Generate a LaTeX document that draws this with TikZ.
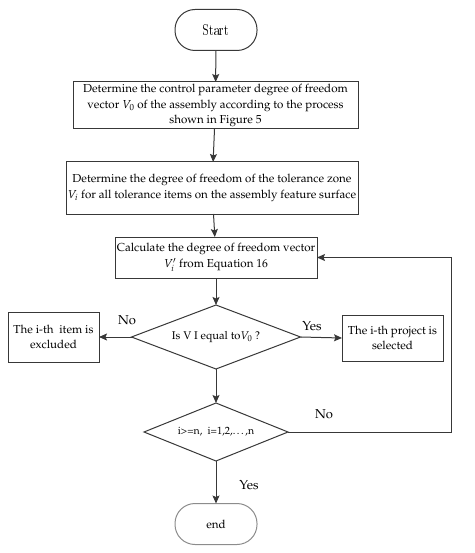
\documentclass[tikz,border=0pt]{standalone}
\usepackage[T1]{fontenc}
\usepackage{mathpazo}
\usepackage{graphicx}
\usetikzlibrary{shapes.geometric,arrows.meta}
\begin{document}
\begin{tikzpicture}[x=1pt,y=-1pt,
  every node/.style={inner sep=0pt, outer sep=0pt},
  base/.style={draw=black!78, line width=1pt, fill=white},
  proc/.style={base, rectangle, align=center, font=\fontsize{11.6}{15.5}\selectfont},
  term/.style={base, rectangle, rounded corners=20pt, minimum width=82pt, minimum height=41pt},
  dec/.style={base, diamond, aspect=2.6, font=\fontsize{11.2}{12}\selectfont},
  lbl/.style={font=\fontsize{13}{14}\selectfont},
  arr/.style={draw=black!78, line width=1pt, -{Stealth[length=8pt,width=7pt,inset=1.5pt]}},
  ln/.style={draw=black!78, line width=1pt}
]
\useasboundingbox (0,0) rectangle (474,553);
\node[term, font=\ttfamily\fontsize{12.5}{13}\selectfont] (start) at (216,30) {\scalebox{1}[1.35]{Start}};
\node[proc, minimum width=285pt, minimum height=47pt] (b1) at (215.5,105.5)
  {Determine the control parameter degree of freedom\\ vector $V_{0}$ of the assembly according to the process\\ shown in Figure 5};
\node[proc, minimum width=292pt, minimum height=52pt] (b2) at (212,188)
  {Determine the degree of freedom of the tolerance zone\\ $V_{i}$ for all tolerance items on the assembly feature surface};
\node[proc, minimum width=202pt, minimum height=41pt] (b3) at (216,257.5)
  {Calculate the degree of freedom vector\\ $V'_{i}$ from Equation 16};
\node[dec, minimum width=169pt, minimum height=64pt] (d1) at (216,337)
  {Is V I equal to$V_{0}$ ?};
\node[proc, minimum width=91pt, minimum height=50pt] (exc) at (53.5,337)
  {The i-th\ \ item is\\ excluded};
\node[proc, minimum width=101pt, minimum height=46pt] (sel) at (392.5,338)
  {The i-th project is\\ selected};
\node[dec, minimum width=144pt, minimum height=58pt, font=\fontsize{10.5}{12}\selectfont] (d2) at (216,432)
  {i>=n,\ \ i=1,2,\ldots,n};
\node[term, draw=black!45, font=\fontsize{11.6}{12}\selectfont] (end) at (216,524) {end};
\coordinate (fb) at (451,257.5);

\draw[arr] (start) -- (b1);
\draw[arr] (b1) -- (b2);
\draw[arr] (b2) -- (b3);
\draw[arr] (b3) -- (d1);
\draw[arr] (d1.west) -- (exc.east);
\draw[arr] (d1.east) -- (sel.west);
\draw[arr] (d1) -- (d2);
\draw[arr] (d2) -- (end);
\draw[arr] (d2.east) -| (fb) -- (b3.east);

\node[lbl] (no1) at (127,320) {No};
\node[lbl] (yes1) at (312,326) {Yes};
\node[lbl] (no2) at (324,414) {No};
\node[lbl] (yes2) at (249,485) {Yes};
\end{tikzpicture}
\end{document}
